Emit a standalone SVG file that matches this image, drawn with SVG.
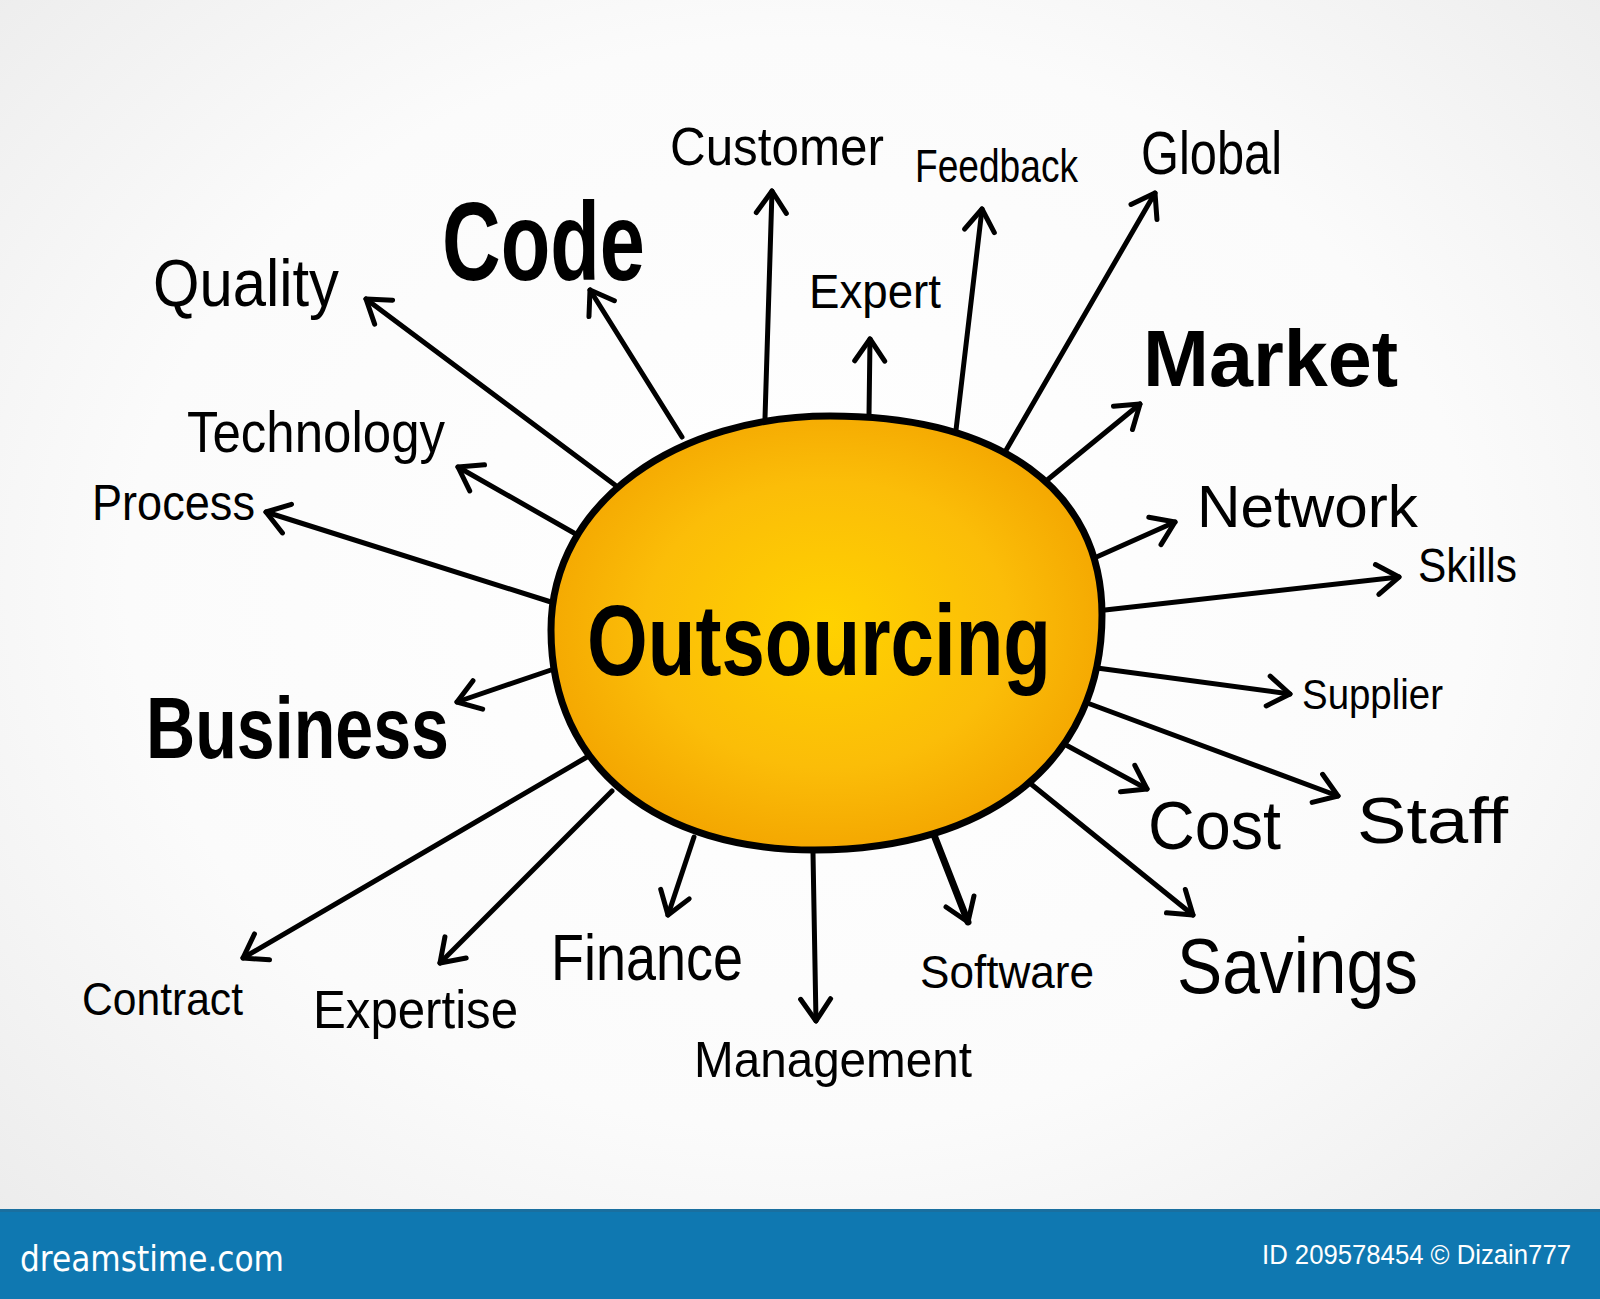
<svg xmlns="http://www.w3.org/2000/svg" width="1600" height="1299" viewBox="0 0 1600 1299">
<defs>
<radialGradient id="bg" cx="50%" cy="45%" r="70%">
<stop offset="0" stop-color="#ffffff"/>
<stop offset="0.6" stop-color="#fbfbfb"/>
<stop offset="1" stop-color="#ececec"/>
</radialGradient>
<radialGradient id="sun" cx="50%" cy="48%" r="55%">
<stop offset="0" stop-color="#ffd200"/>
<stop offset="0.6" stop-color="#fbbd08"/>
<stop offset="1" stop-color="#f3a400"/>
</radialGradient>
<marker id="ah" markerUnits="userSpaceOnUse" viewBox="-30 -20 36 40" refX="0" refY="0" markerWidth="36" markerHeight="40" orient="auto">
<path d="M-22,-15 L0,0 L-22,15" fill="none" stroke="#000" stroke-width="5" stroke-linecap="round" stroke-linejoin="round"/>
</marker>
</defs>
<style>
.lbl{font-family:"Liberation Sans","DejaVu Sans",sans-serif;fill:#000;}
.big{font-weight:bold;}
.ln{stroke:#000;stroke-width:5;fill:none;stroke-linecap:round;marker-end:url(#ah);}
.ban{font-family:"DejaVu Sans","Liberation Sans",sans-serif;fill:#fff;}
.id{font-family:"Liberation Sans","DejaVu Sans",sans-serif;fill:#fff;}
</style>
<rect width="1600" height="1299" fill="url(#bg)"/>
<g id="connectors">
<line class="ln" x1="765" y1="418" x2="772" y2="191"/>
<line class="ln" x1="869" y1="415" x2="870" y2="339"/>
<line class="ln" x1="956" y1="430" x2="982" y2="209"/>
<line class="ln" x1="1005" y1="452" x2="1155" y2="193"/>
<line class="ln" x1="1046" y1="481" x2="1140" y2="404"/>
<line class="ln" x1="1092" y1="559" x2="1175" y2="522"/>
<line class="ln" x1="1105" y1="610" x2="1399" y2="577"/>
<line class="ln" x1="1097" y1="668" x2="1290" y2="694"/>
<line class="ln" x1="1090" y1="704" x2="1338" y2="796"/>
<line class="ln" x1="1066" y1="745" x2="1147" y2="789"/>
<line class="ln" x1="1031" y1="784" x2="1193" y2="915"/>
<line class="ln" x1="934" y1="835" x2="968" y2="922" style="stroke-width:7"/>
<line class="ln" x1="813" y1="853" x2="816" y2="1021"/>
<line class="ln" x1="694" y1="837" x2="668" y2="915"/>
<line class="ln" x1="612" y1="791" x2="440" y2="963"/>
<line class="ln" x1="587" y1="757" x2="243" y2="958"/>
<line class="ln" x1="551" y1="670" x2="457" y2="702"/>
<line class="ln" x1="551" y1="602" x2="266" y2="512"/>
<line class="ln" x1="574" y1="533" x2="458" y2="467"/>
<line class="ln" x1="615" y1="485" x2="366" y2="299"/>
<line class="ln" x1="682" y1="437" x2="590" y2="290"/>
</g>
<g id="center">
<path d="M551,630 C551,500 680,416 830,416 C1000,416 1102,490 1102,615 C1102,760 990,850 815,850 C660,850 551,770 551,630 Z" fill="url(#sun)" stroke="#000" stroke-width="7"/>
<text class="lbl big" x="587" y="675" font-size="100" textLength="464" lengthAdjust="spacingAndGlyphs">Outsourcing</text>
</g>
<g id="n-customer"><text class="lbl" x="670" y="165" font-size="54" textLength="214" lengthAdjust="spacingAndGlyphs">Customer</text></g>
<g id="n-feedback"><text class="lbl" x="915" y="182" font-size="46" textLength="163" lengthAdjust="spacingAndGlyphs">Feedback</text></g>
<g id="n-global"><text class="lbl" x="1141" y="174" font-size="62" textLength="141" lengthAdjust="spacingAndGlyphs">Global</text></g>
<g id="n-code"><text class="lbl big" x="442" y="280" font-size="112" textLength="203" lengthAdjust="spacingAndGlyphs">Code</text></g>
<g id="n-quality"><text class="lbl" x="153" y="306" font-size="66" textLength="186" lengthAdjust="spacingAndGlyphs">Quality</text></g>
<g id="n-expert"><text class="lbl" x="809" y="308" font-size="48" textLength="132" lengthAdjust="spacingAndGlyphs">Expert</text></g>
<g id="n-market"><text class="lbl big" x="1143" y="386" font-size="80" textLength="255" lengthAdjust="spacingAndGlyphs">Market</text></g>
<g id="n-technology"><text class="lbl" x="187" y="452" font-size="58" textLength="258" lengthAdjust="spacingAndGlyphs">Technology</text></g>
<g id="n-process"><text class="lbl" x="92" y="520" font-size="50" textLength="163" lengthAdjust="spacingAndGlyphs">Process</text></g>
<g id="n-network"><text class="lbl" x="1197" y="527" font-size="60" textLength="221" lengthAdjust="spacingAndGlyphs">Network</text></g>
<g id="n-skills"><text class="lbl" x="1418" y="582" font-size="48" textLength="99" lengthAdjust="spacingAndGlyphs">Skills</text></g>
<g id="n-supplier"><text class="lbl" x="1302" y="709" font-size="42" textLength="141" lengthAdjust="spacingAndGlyphs">Supplier</text></g>
<g id="n-business"><text class="lbl big" x="146" y="758" font-size="88" textLength="303" lengthAdjust="spacingAndGlyphs">Business</text></g>
<g id="n-cost"><text class="lbl" x="1148" y="849" font-size="68" textLength="133" lengthAdjust="spacingAndGlyphs">Cost</text></g>
<g id="n-staff"><text class="lbl" x="1357" y="843" font-size="64" textLength="151" lengthAdjust="spacingAndGlyphs">Staff</text></g>
<g id="n-savings"><text class="lbl" x="1177" y="993" font-size="78" textLength="241" lengthAdjust="spacingAndGlyphs">Savings</text></g>
<g id="n-finance"><text class="lbl" x="551" y="980" font-size="64" textLength="192" lengthAdjust="spacingAndGlyphs">Finance</text></g>
<g id="n-software"><text class="lbl" x="920" y="988" font-size="46" textLength="174" lengthAdjust="spacingAndGlyphs">Software</text></g>
<g id="n-contract"><text class="lbl" x="82" y="1015" font-size="46" textLength="161" lengthAdjust="spacingAndGlyphs">Contract</text></g>
<g id="n-expertise"><text class="lbl" x="313" y="1028" font-size="54" textLength="205" lengthAdjust="spacingAndGlyphs">Expertise</text></g>
<g id="n-management"><text class="lbl" x="694" y="1077" font-size="50" textLength="278" lengthAdjust="spacingAndGlyphs">Management</text></g>
<g id="banner">
<rect x="0" y="1209" width="1600" height="90" fill="#0f78b1"/>
<rect x="0" y="1209" width="1600" height="3" fill="#1a6f9f"/>
<text class="ban" x="20" y="1271" font-size="36" textLength="264" lengthAdjust="spacingAndGlyphs">dreamstime.com</text>
<text class="id" x="1262" y="1264" font-size="27" textLength="309" lengthAdjust="spacingAndGlyphs">ID 209578454 © Dizain777</text>
</g>
</svg>
